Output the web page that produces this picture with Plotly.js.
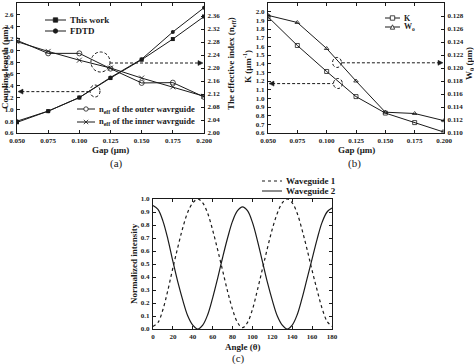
<!DOCTYPE html>
<html><head><meta charset="utf-8">
<script src="https://cdn.plot.ly/plotly-3.0.1.min.js"></script>
<style>html,body{margin:0;padding:0;background:#fff}#c{width:474px;height:364px}</style>
</head><body><div id="c"></div>
<script>
// Panel (a)/(b) shared gap values
const gap = [0.050, 0.075, 0.100, 0.125, 0.150, 0.175, 0.200];
const thisWork = [0.78, 0.97, 1.20, 1.53, 1.84, 2.19, 2.57];
const fdtd = [0.80, 0.97, 1.20, 1.54, 1.85, 2.31, 2.72];
const neffOuter = [2.285, 2.245, 2.245, 2.198, 2.154, 2.155, 2.111];
const neffInner = [2.281, 2.251, 2.224, 2.200, 2.169, 2.142, 2.113];
// Panel (b)
const kappa = [1.94, 1.61, 1.31, 1.02, 0.83, 0.72, 0.61];
const w0 = [0.1281, 0.1270, 0.1230, 0.1180, 0.1132, 0.1130, 0.1119];
// Panel (c)
const angle = [0,5,10,15,20,25,30,35,40,45,50,55,60,65,70,75,80,85,90,95,100,105,110,115,120,125,130,135,140,145,150,155,160,165,170,175,180];
const wg1 = [0.02,0.05,0.15,0.30,0.47,0.63,0.78,0.90,0.97,1.00,0.97,0.89,0.76,0.61,0.45,0.29,0.15,0.05,0.01,0.05,0.15,0.30,0.46,0.62,0.77,0.89,0.97,1.00,0.97,0.89,0.76,0.61,0.45,0.30,0.16,0.06,0.02];
const wg2 = [0.95,0.92,0.83,0.69,0.52,0.36,0.22,0.10,0.03,0.00,0.03,0.11,0.24,0.39,0.55,0.70,0.83,0.91,0.94,0.91,0.82,0.68,0.52,0.36,0.22,0.10,0.03,0.00,0.03,0.11,0.24,0.39,0.54,0.69,0.82,0.90,0.93];

const C = '#1a1a1a';
const F = 'Liberation Serif';
const tickFont = {family: F, size: 7, color: C, weight: 'bold'};
const titleFont = {family: F, size: 9, color: C, weight: 'bold'};
const ln = {color: C, width: 1};

const traces = [
  {x: gap, y: thisWork, xaxis: 'x', yaxis: 'y', name: 'This work', mode: 'lines+markers', line: ln, marker: {symbol: 'square', size: 4, color: C}},
  {x: gap, y: fdtd, xaxis: 'x', yaxis: 'y', name: 'FDTD', mode: 'lines+markers', line: ln, marker: {symbol: 'circle', size: 4, color: C}},
  {x: gap, y: neffOuter, xaxis: 'x', yaxis: 'y2', name: 'n<sub>eff</sub> of the outer wavrguide', mode: 'lines+markers', line: ln, marker: {symbol: 'circle-open', size: 5, color: C, line: {width: 0.8}}},
  {x: gap, y: neffInner, xaxis: 'x', yaxis: 'y2', name: 'n<sub>eff</sub> of the inner wavrguide', mode: 'lines+markers', line: ln, marker: {symbol: 'x-thin-open', size: 5, color: C, line: {width: 0.8, color: C}}},
  {x: gap, y: kappa, xaxis: 'x2', yaxis: 'y3', name: 'K', mode: 'lines+markers', line: ln, marker: {symbol: 'square-open', size: 4, color: C, line: {width: 0.8}}},
  {x: gap, y: w0, xaxis: 'x2', yaxis: 'y4', name: 'W<sub>o</sub>', mode: 'lines+markers', line: ln, marker: {symbol: 'triangle-up-open', size: 4, color: C, line: {width: 0.8}}},
  {x: angle, y: wg1, xaxis: 'x3', yaxis: 'y5', name: 'Waveguide 1', mode: 'lines', line: {color: C, width: 1.2, dash: 'dot', shape: 'spline'}},
  {x: angle, y: wg2, xaxis: 'x3', yaxis: 'y5', name: 'Waveguide 2', mode: 'lines', line: {color: C, width: 1.2, shape: 'spline'}}
];

const W = 474, H = 364;
const px = v => v / W, py = v => 1 - v / H;
const axBase = {showline: true, linecolor: C, linewidth: 1, ticks: 'inside', ticklen: 3, tickcolor: C, tickfont: tickFont, showgrid: false, zeroline: false, automargin: false, ticklabelstandoff: 1};

const shapes = [];
const annotations = [];
const dashL = {color: C, width: 1, dash: '3px,2px'};
// dashed circles and arrows (annotation marks)
shapes.push({type: 'circle', xref: 'x', yref: 'y', x0: 0.1093, x1: 0.1246, y0: 1.632, y1: 1.971, line: dashL});
shapes.push({type: 'line', xref: 'x', yref: 'y2', x0: 0.1246, x1: 0.197, y0: 2.2154, y1: 2.2154, line: dashL});
shapes.push({type: 'circle', xref: 'x', yref: 'y', x0: 0.1086, x1: 0.1166, y0: 1.209, y1: 1.412, line: dashL});
shapes.push({type: 'line', xref: 'x', yref: 'y', x0: 0.0535, x1: 0.1086, y0: 1.30, y1: 1.30, line: dashL});
shapes.push({type: 'circle', xref: 'x2', yref: 'y3', x0: 0.1050, x1: 0.1126, y0: 1.356, y1: 1.472, line: dashL});
shapes.push({type: 'line', xref: 'x2', yref: 'y4', x0: 0.1130, x1: 0.197, y0: 0.1208, y1: 0.1208, line: dashL});
shapes.push({type: 'circle', xref: 'x2', yref: 'y3', x0: 0.1058, x1: 0.1134, y0: 1.113, y1: 1.229, line: dashL});
shapes.push({type: 'line', xref: 'x2', yref: 'y3', x0: 0.0535, x1: 0.1058, y0: 1.17, y1: 1.17, line: dashL});
// arrowheads (pixel positions converted to paper)
function head(tipX, y, dir) {
  const b = tipX - dir * 5;
  shapes.push({type: 'path', xref: 'paper', yref: 'paper', path: `M ${px(b)} ${py(y - 2.5)} L ${px(tipX)} ${py(y)} L ${px(b)} ${py(y + 2.5)} Z`, fillcolor: C, line: {color: C, width: 0.5}});
}
head(203, 63.0, 1);
head(18, 91.6, -1);
head(443, 62.8, 1);
head(269, 83.6, -1);

// text helper in pixel coordinates
const txt = (x, y, t, opt) => Object.assign({xref: 'paper', yref: 'paper', x: px(x), y: py(y), xanchor: 'center', yanchor: 'middle', text: t, showarrow: false, font: titleFont}, opt || {});
// axis titles
annotations.push(txt(5, 68, 'Coupling length (μm)', {textangle: -90}));
annotations.push(txt(231, 64, 'The effective index (n<sub>eff</sub>)', {textangle: -90}));
annotations.push(txt(110, 150, 'Gap (μm)'));
annotations.push(txt(247, 66, 'K (μm<sup>-1</sup>)', {textangle: -90}));
annotations.push(txt(469, 64, 'W<sub>0</sub> (μm)', {textangle: -90}));
annotations.push(txt(356, 150, 'Gap (μm)'));
annotations.push(txt(134, 264, 'Normalized intensity', {textangle: -90}));
annotations.push(txt(243, 347, 'Angle (θ)'));
annotations.push(txt(116, 164, '(a)', {font: {family: F, size: 11, color: C}}));
annotations.push(txt(354, 164, '(b)', {font: {family: F, size: 11, color: C}}));
annotations.push(txt(238, 358, '(c)', {font: {family: F, size: 11, color: C}}));

// manual legends
const legFont = {family: F, size: 9, color: C, weight: 'bold'};
function legLine(x0, x1, y, dash) {
  shapes.push({type: 'line', xref: 'paper', yref: 'paper', x0: px(x0), x1: px(x1), y0: py(y), y1: py(y), line: {color: C, width: 1, dash: dash || 'solid'}});
}
function legMarker(kind, cx, cy, filled) {
  const r = 2.2;
  const base = {xref: 'paper', yref: 'paper', line: {color: C, width: 0.8}, fillcolor: filled ? C : '#fff'};
  if (kind === 'square') shapes.push(Object.assign({type: 'rect', x0: px(cx - r), x1: px(cx + r), y0: py(cy + r), y1: py(cy - r)}, base));
  if (kind === 'circle') shapes.push(Object.assign({type: 'circle', x0: px(cx - r), x1: px(cx + r), y0: py(cy + r), y1: py(cy - r)}, base));
  if (kind === 'triangle') shapes.push(Object.assign({type: 'path', path: `M ${px(cx - r)} ${py(cy + r)} L ${px(cx + r)} ${py(cy + r)} L ${px(cx)} ${py(cy - r)} Z`}, base));
  if (kind === 'x') {
    shapes.push({type: 'line', xref: 'paper', yref: 'paper', x0: px(cx - r), x1: px(cx + r), y0: py(cy - r), y1: py(cy + r), line: {color: C, width: 0.8}});
    shapes.push({type: 'line', xref: 'paper', yref: 'paper', x0: px(cx - r), x1: px(cx + r), y0: py(cy + r), y1: py(cy - r), line: {color: C, width: 0.8}});
  }
}
function legEntry(x0, x1, y, kind, filled, label, dash, size) {
  legLine(x0, x1, y, dash);
  if (kind) legMarker(kind, (x0 + x1) / 2, y, filled);
  annotations.push(txt(x1 + 2, y, label, {xanchor: 'left', font: Object.assign({}, legFont, {size: size || 9})}));
}
legEntry(45, 66, 20, 'square', true, 'This work');
legEntry(45, 66, 31, 'circle', true, 'FDTD');
legEntry(77, 95, 109, 'circle', false, 'n<sub>eff</sub> of the outer wavrguide', null, 8.5);
legEntry(77, 95, 122, 'x', false, 'n<sub>eff</sub> of the inner wavrguide', null, 8.5);
legEntry(385, 400, 18, 'square', false, 'K', null, 8);
legEntry(385, 400, 27, 'triangle', false, 'W<sub>o</sub>', null, 8);
legEntry(262, 282, 181, null, false, 'Waveguide 1', 'dot');
legEntry(262, 282, 191, null, false, 'Waveguide 2');

const layout = {
  width: W, height: H, margin: {l: 0, r: 0, t: 0, b: 0},
  paper_bgcolor: '#fff', plot_bgcolor: '#fff', showlegend: false,
  font: {family: F, color: C},
  xaxis: Object.assign({}, axBase, {domain: [px(17), px(204)], anchor: 'y', range: [0.05, 0.2], dtick: 0.025, tick0: 0.05, tickformat: '.3f', mirror: 'ticks'}),
  yaxis: Object.assign({}, axBase, {domain: [py(133), py(3)], anchor: 'x', range: [0.6, 2.8], dtick: 0.2, tickformat: '.1f'}),
  yaxis2: Object.assign({}, axBase, {overlaying: 'y', side: 'right', anchor: 'x', range: [2.0, 2.4], dtick: 0.04, tickformat: '.2f'}),
  xaxis2: Object.assign({}, axBase, {domain: [px(268), px(444)], anchor: 'y3', range: [0.05, 0.2], dtick: 0.025, tick0: 0.05, tickformat: '.3f', mirror: 'ticks'}),
  yaxis3: Object.assign({}, axBase, {domain: [py(133), py(3)], anchor: 'x2', range: [0.6, 2.1], dtick: 0.1, tickformat: '.1f'}),
  yaxis4: Object.assign({}, axBase, {overlaying: 'y3', side: 'right', anchor: 'x2', range: [0.110, 0.130], dtick: 0.002, tickformat: '.3f'}),
  xaxis3: Object.assign({}, axBase, {domain: [px(153), px(332)], anchor: 'y5', range: [0, 180], dtick: 20, mirror: 'ticks'}),
  yaxis5: Object.assign({}, axBase, {domain: [py(329), py(199)], anchor: 'x3', range: [0, 1.0], dtick: 0.1, tickformat: '.1f', mirror: 'ticks'}),
  shapes: shapes,
  annotations: annotations
};

Plotly.newPlot('c', traces, layout, {staticPlot: true, displayModeBar: false});
</script></body></html>
